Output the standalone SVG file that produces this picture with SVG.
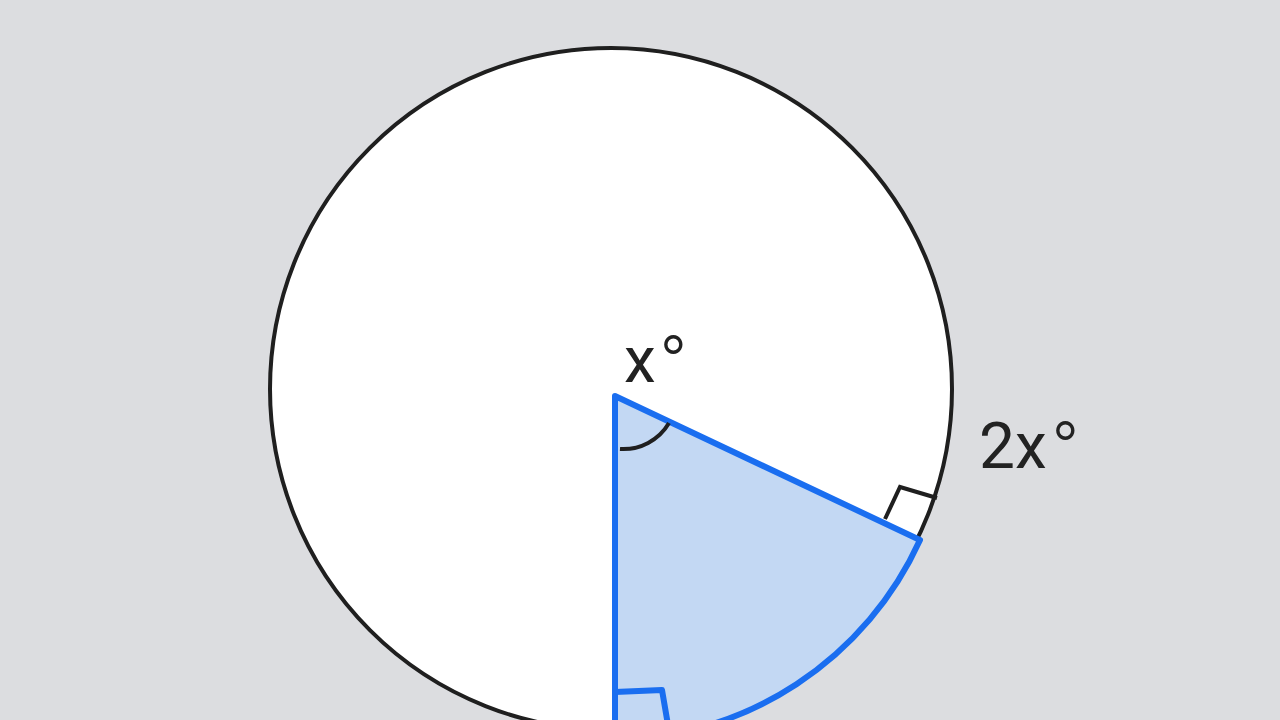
<svg xmlns="http://www.w3.org/2000/svg" width="1280" height="720" viewBox="0 0 1280 720">
<style>
.lbl{font-family:Roboto,"Open Sans","Liberation Sans",sans-serif;font-size:64px;fill:#222}
.deg{font-size:77px;font-weight:300}
.blk{fill:none;stroke:#1f1f1f;stroke-width:4}
.blu{stroke:#1a6ef0;stroke-width:6;stroke-linejoin:round}
</style>
<rect width="1280" height="720" fill="#dcdde0"/>
<g id="circle"><circle cx="611" cy="389" r="341" fill="#ffffff" stroke="#1f1f1f" stroke-width="4"/></g>
<g id="sector">
<path class="blu" d="M615,396 L920,540 A341,341 0 0,1 615,740 Z" fill="#c3d8f3"/>
</g>
<g id="markers">
<path class="blk" d="M620,449 A53,53 0 0,0 669,423"/>
<polyline class="blk" points="885,519 900,487 937,498"/>
<polyline class="blu" fill="none" points="615,692 662,690 668,725"/>
</g>
<g id="labels">
<text class="lbl" x="624" y="382">x<tspan class="deg" dx="3" dy="9">°</tspan></text>
<text class="lbl" x="979" y="468">2x<tspan class="deg" dx="4" dy="9">°</tspan></text>
</g>
</svg>
